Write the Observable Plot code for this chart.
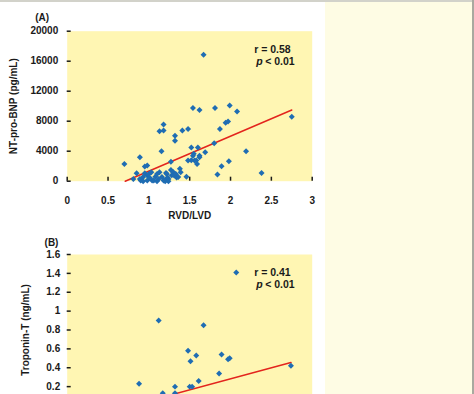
<!DOCTYPE html>
<html><head><meta charset="utf-8">
<script src="https://cdn.jsdelivr.net/npm/d3@7"></script>
<script src="https://cdn.jsdelivr.net/npm/@observablehq/plot@0.6"></script>
<style>
html,body{margin:0;padding:0;background:#fff;}
body{width:474px;height:394px;overflow:hidden;position:relative;font-family:"Liberation Sans",Arial,sans-serif;}
#topbar{position:absolute;left:0;top:0;width:474px;height:2px;background:#d2d2ca;}
#side{position:absolute;left:325px;top:2px;width:147px;height:392px;background:#fefce4;}
#rborder{position:absolute;left:472px;top:0;width:2px;height:394px;background:#a9a9a0;}
#a{position:absolute;left:0;top:0;}
#b{position:absolute;left:0;top:222px;}
svg{overflow:visible;}
</style></head><body>
<div id="side"></div><div id="topbar"></div><div id="rborder"></div>
<div id="a"></div><div id="b"></div>
<script>
// Panel A: RVD/LVD vs NT-pro-BNP
const rvdA = [0.70,0.81,0.85,0.89,0.89,0.90,0.93,0.93,0.95,0.95,0.98,0.98,0.98,1.00,1.01,1.03,1.04,1.06,1.08,1.10,1.10,1.12,1.13,1.13,1.155,1.16,1.18,1.18,1.18,1.20,1.20,1.21,1.22,1.23,1.24,1.24,1.27,1.27,1.28,1.30,1.31,1.32,1.32,1.33,1.34,1.36,1.38,1.39,1.41,1.46,1.48,1.48,1.52,1.52,1.54,1.54,1.55,1.56,1.58,1.59,1.60,1.62,1.62,1.62,1.67,1.69,1.80,1.81,1.84,1.87,1.89,1.94,1.97,1.98,1.99,2.08,2.19,2.38,2.75];
const bnp = [2300,300,1050,3200,300,100,550,0,1950,1050,2100,100,750,950,450,1200,100,100,600,950,0,300,1200,6650,4000,550,7550,6750,100,200,0,1100,950,500,300,0,2600,1500,800,1200,750,6050,5400,950,500,550,1650,1200,6750,600,6950,2750,4500,2800,9750,3400,3650,2750,2750,2300,4500,9500,3400,3200,16850,3850,5050,9750,900,6950,2000,7800,7950,2650,10100,9300,4000,1100,8600];
const fitAx = [0.71, 2.75];
const fitAy = [0, 9500];
const statA = ["r = 0.58", "< 0.01"];

// Panel B: RVD/LVD vs Troponin-T (bottom of panel is cut off in the original)
const rvdB = [0.88,1.12,1.17,1.32,1.32,1.48,1.50,1.51,1.53,1.58,1.61,1.67,1.86,1.89,1.97,1.99,2.07,2.74];
const tnt = [0.23,0.90,0.13,0.20,0.13,0.58,0.20,0.47,0.20,0.53,0.26,0.85,0.34,0.54,0.49,0.50,1.41,0.42];
const fitBx = [0.79, 2.74];
const fitBy = [0, 0.455];
const statB = ["r = 0.41", "< 0.01"];

const xTicks = [0, 0.5, 1, 1.5, 2, 2.5, 3];
const yTicksA = [0, 4000, 8000, 12000, 16000, 20000];
const yTicksB = [0.2, 0.4, 0.6, 0.8, 1, 1.2, 1.4, 1.6];

const YEL = "#fff6b3", BLUE = "#1f6db3", RED = "#e3241d", INK = "#1a1a1a";
const FONT = "'Liberation Sans', Arial, sans-serif";
const fmt = d => String(d);

function panel({xs, ys, fx, fy, yDomain, yTicks, yLabel, yLabelOffset, yPad, stat, tag, tagDx, tagDy, height, mTop, mBottom, xLabel}) {
  const pts = xs.map((x, i) => ({x, y: ys[i]}));
  const fit = fx.map((x, i) => ({x, y: fy[i]}));
  const marks = [
    Plot.frame({fill: YEL, stroke: null}),
    Plot.axisY(yTicks, {tickSize: -4, tickPadding: yPad, color: INK, strokeWidth: 1.5, line: true, tickFormat: fmt,
      fontSize: 10, label: yLabel, labelAnchor: "center", labelOffset: yLabelOffset, labelArrow: "none"})
  ];
  if (xLabel) marks.push(
    Plot.axisX(xTicks, {tickSize: -4, tickPadding: 20, color: INK, strokeWidth: 1.5, line: true, tickFormat: fmt,
      fontSize: 10, label: xLabel, labelAnchor: "center", labelOffset: 38, labelArrow: "none"})
  );
  marks.push(
    Plot.line(fit, {x: "x", y: "y", stroke: RED, strokeWidth: 1.5}),
    Plot.dot(pts, {x: "x", y: "y", symbol: "diamond2", r: 2.7, fill: BLUE, stroke: null}),
    Plot.text([stat[0]], {frameAnchor: "top-right", textAnchor: "start", dx: -58, dy: 14, fontSize: 10.5, fontWeight: "bold", fill: INK}),
    Plot.text(["p"], {frameAnchor: "top-right", textAnchor: "start", dx: -56, dy: 26, fontSize: 10.5, fontWeight: "bold", fontStyle: "italic", fill: INK}),
    Plot.text([stat[1]], {frameAnchor: "top-right", textAnchor: "start", dx: -47, dy: 26, fontSize: 10.5, fontWeight: "bold", fill: INK}),
    Plot.text([tag], {frameAnchor: "top-left", textAnchor: "middle", dx: tagDx, dy: tagDy, fontSize: 10, fontWeight: "bold", fill: INK})
  );
  return Plot.plot({
    width: 325, height,
    marginLeft: 66.7, marginRight: 13.3, marginTop: mTop, marginBottom: mBottom,
    x: {domain: [0, 3]},
    y: {domain: yDomain},
    style: {fontFamily: FONT, fontWeight: "bold", background: "transparent", color: INK, overflow: "visible"},
    marks
  });
}

document.getElementById("a").append(panel({
  xs: rvdA, ys: bnp, fx: fitAx, fy: fitAy, yDomain: [0, 20000], yTicks: yTicksA,
  yLabel: "NT-pro-BNP (pg/mL)", yLabelOffset: 57, yPad: 13, stat: statA,
  tag: "(A)", tagDx: -25, tagDy: -17, height: 222, mTop: 30.7, mBottom: 41.3, xLabel: "RVD/LVD"
}));

document.getElementById("b").append(panel({
  xs: rvdB, ys: tnt, fx: fitBx, fy: fitBy, yDomain: [0, 1.6], yTicks: yTicksB,
  yLabel: "Troponin-T (ng/mL)", yLabelOffset: 45, yPad: 11, stat: statB,
  tag: "(B)", tagDx: -15.7, tagDy: -16, height: 183, mTop: 32, mBottom: 0, xLabel: null
}));
</script></body></html>
